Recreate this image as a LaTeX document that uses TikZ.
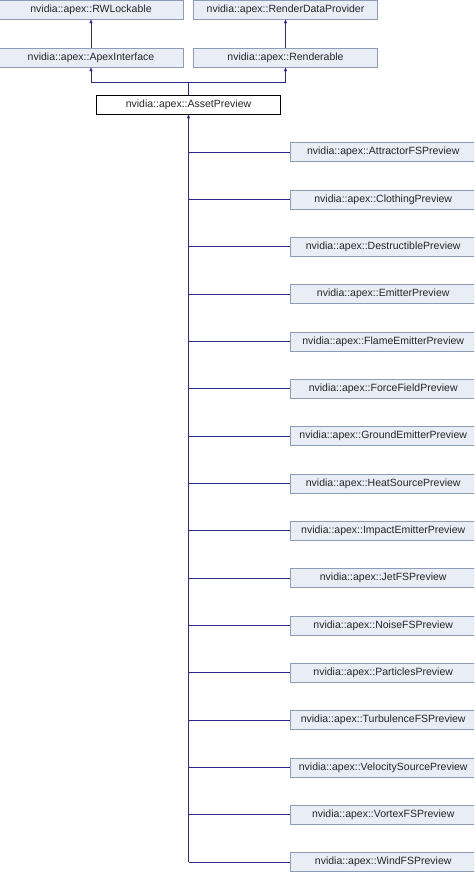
\documentclass[tikz,border=0pt]{standalone}
\usepackage{fontspec}
\setmainfont{Liberation Sans}
\usepackage{xcolor}
\usetikzlibrary{positioning,calc,arrows.meta}

\definecolor{boxfill}{HTML}{E9EDF6}
\definecolor{boxline}{HTML}{8E9CB8}
\definecolor{edgeblue}{HTML}{2A2A8C}

\tikzset{
    cls/.style={draw=boxline, fill=boxfill, minimum width=184pt, minimum height=19pt,
        inner sep=0pt, font=\fontsize{10.5}{12}\selectfont, text=black!85},
    curcls/.style={cls, draw=black, fill=white},
    inherit/.style={draw=edgeblue, -{Latex[length=4pt,width=3.5pt]}}
}

\begin{document}
\begin{tikzpicture}[x=1pt, y=-1pt]
    \useasboundingbox (0,0) rectangle (474,873);
    \clip (0,0) rectangle (474,873);
    % base classes
    \node[cls] (rwl) at (91,9.5) {nvidia::apex::RWLockable};
    \node[cls] (rdp) at (285.5,9.5) {nvidia::apex::RenderDataProvider};
    \node[cls] (api) at (91,57.5) {nvidia::apex::ApexInterface};
    \node[cls] (rnd) at (285.5,57.5) {nvidia::apex::Renderable};
    \node[curcls] (asp) at (188.5,104.5) {nvidia::apex::AssetPreview};

    \draw[inherit] (api) -- (rwl);
    \draw[inherit] (rnd) -- (rdp);
    \coordinate (join) at (188.5,82);
    \draw[inherit] (asp.north) -- (join) -| (api.south);
    \draw[inherit] (join) -| (rnd.south);

    % derived classes
    \foreach \name [count=\i from 0] in {AttractorFSPreview, ClothingPreview,
        DestructiblePreview, EmitterPreview, FlameEmitterPreview, ForceFieldPreview,
        GroundEmitterPreview, HeatSourcePreview, ImpactEmitterPreview, JetFSPreview,
        NoiseFSPreview, ParticlesPreview, TurbulenceFSPreview, VelocitySourcePreview,
        VortexFSPreview, WindFSPreview}{
        \node[cls, anchor=west, minimum width=186pt] (c\i) at (290,152+47.33*\i) {nvidia::apex::\name};
        \draw[edgeblue] (c\i.west) -- (asp.south |- c\i.west);
    }
    \draw[inherit] (asp.south |- c15.west) -- (asp.south);
\end{tikzpicture}
\end{document}
